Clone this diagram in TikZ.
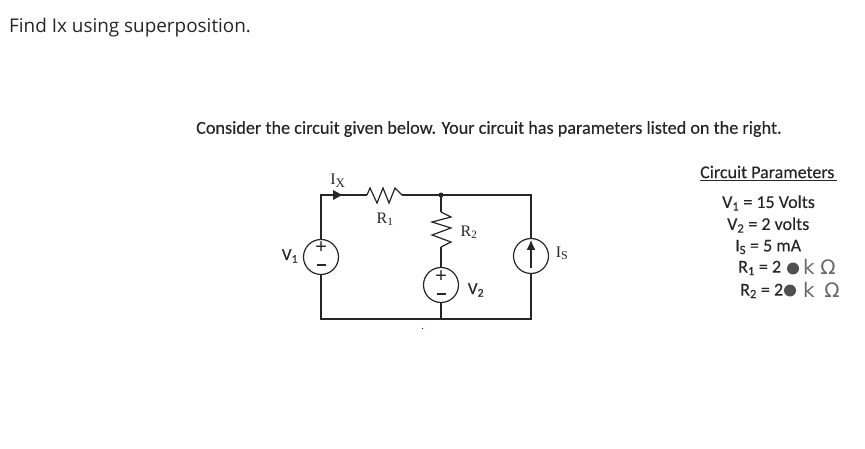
\documentclass[tikz,border=0pt]{standalone}
\usepackage{fontspec}
\setmainfont{Carlito}[FakeBold=0.25]
\newfontfamily\headfont{Open Sans}
\newfontfamily\serifc{Liberation Serif}
\newfontfamily\handfont{DejaVu Sans}
\usetikzlibrary{arrows.meta}
\definecolor{ink}{HTML}{262626}
\definecolor{hand}{HTML}{6A6A6A}
\tikzset{
  wire/.style={draw=ink,line width=1.2pt,line join=miter},
  source/.style={circle,draw=ink,line width=1.2pt,minimum size=35pt,inner sep=0pt,fill=white},
  lab/.style={text=ink,inner sep=0pt,font=\serifc\fontsize{16}{16}\selectfont},
  param/.style={text=ink,inner sep=0pt,anchor=west,font=\fontsize{18}{18}\selectfont},
  handw/.style={text=hand,inner sep=0pt,font=\handfont\fontsize{20}{20}\selectfont},
  blob/.style={circle,fill=hand!75!black,inner sep=0pt,minimum size=12pt},
  sign/.style={text=ink,inner sep=0pt,font=\fontsize{20}{20}\selectfont},
}
\begin{document}
\begin{tikzpicture}[x=1pt,y=-1pt]
\useasboundingbox (0,0) rectangle (865,449);
% headings
\node[anchor=west,inner sep=0pt,text=ink] (title) at (9,28) {\headfont\fontsize{18.9}{20}\selectfont Find Ix using superposition.};
\node[anchor=west,inner sep=0pt,text=ink] (intro) at (196,129) {\fontsize{18.2}{19}\selectfont Consider the circuit given below. Your circuit has parameters listed on the right.};
% corners and sources
\coordinate (TL) at (321,195);
\coordinate (J) at (441,195);
\coordinate (TR) at (531,195);
\coordinate (BL) at (321,319);
\coordinate (BM) at (441,319);
\coordinate (BR) at (531,319);
\coordinate (Ra) at (367,195);
\coordinate (Rb) at (402,195);
\coordinate (Sa) at (441,212);
\coordinate (Sb) at (441,247);
\node[source] (V1) at (321,257) {};
\node[source] (V2) at (441,285) {};
\node[source] (IS) at (531,256) {};
% wires
\draw[wire] (V1.north) -- (TL) -- (Ra);
\draw[wire] (Ra) -- (370,188) -- (377,203) -- (383,188) -- (389,203) -- (395,188) -- (Rb);
\draw[wire] (Rb) -- (J) -- (TR) -- (IS.north);
\draw[wire] (J) -- (Sa);
\draw[wire] (Sa) -- (451,217) -- (432,222) -- (451,228) -- (432,235) -- (451,242) -- (Sb);
\draw[wire] (Sb) -- (V2.north);
\draw[wire] (V1.south) -- (BL) -- (BM) -- (BR) -- (IS.south);
\draw[wire] (V2.south) -- (BM);
\fill[ink] (J) circle (2.5pt);
\fill[ink] (333,190) -- (342,195) -- (333,200) -- cycle;
% source markings
\node[sign] (p1) at (321,247) {+};
\draw[ink,line width=1.8pt] (317,265) -- (326,265);
\node[sign] (p2) at (441,276) {+};
\draw[ink,line width=1.2pt] (437,294) -- (446,294);
\draw[wire,-{Latex[length=10pt,width=9pt]}] (531,268) -- (531,240);
% labels
\node[lab] (ix) at (338,182) {I\textsubscript{\raisebox{3pt}{\fontsize{13}{13}\selectfont X}}};
\node[lab] (r1) at (385,220) {R\textsubscript{\raisebox{1.5pt}{1}}};
\node[lab] (r2) at (469,233) {R\textsubscript{\raisebox{1.5pt}{2}}};
\node[text=ink,inner sep=0pt,font=\fontsize{17}{17}\selectfont] (v1) at (290,256) {V\textsubscript{1}};
\node[lab] (is) at (562,254) {I\textsubscript{\raisebox{1.5pt}{\fontsize{12}{12}\selectfont S}}};
\node[text=ink,inner sep=0pt,font=\fontsize{17}{17}\selectfont] (v2) at (476,290) {V\textsubscript{2}};
% parameters
\node[param] (cp) at (700,172) {Circuit Parameters};
\draw[ink,line width=0.9pt] (700,180.5) -- (837,180.5);
\node[param] (pa) at (722,203) {V\textsubscript{1} = 15 Volts};
\node[param] (pb) at (727,225) {V\textsubscript{2} = 2 volts};
\node[param] (pc) at (735,247) {I\textsubscript{S} = 5 mA};
\node[param] (pd) at (738,268) {R\textsubscript{1} = 2};
\node[param] (pe) at (740,291) {R\textsubscript{2} = 2};
\node[blob] (ba) at (793,268.5) {};
\node[blob] (bb) at (790,290.5) {};
\node[handw] (ka) at (809,267) {k};
\node[handw] (oa) at (828,267) {Ω};
\node[handw] (kb) at (809,290) {k};
\node[handw] (ob) at (832,290) {Ω};
\fill[blue!70!black] (421.5,327.5) rectangle (423,329);
\end{tikzpicture}
\end{document}
